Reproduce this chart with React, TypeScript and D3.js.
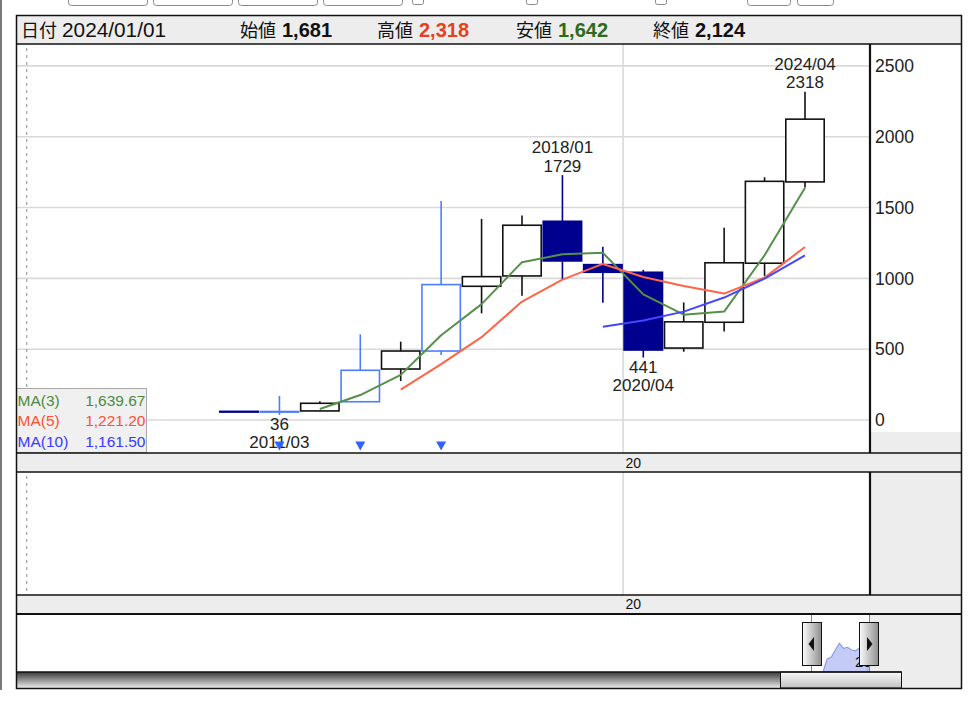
import React from 'react';
import * as d3 from 'd3';

// ---------- data ----------
const years = [2010, 2011, 2012, 2013, 2014, 2015, 2016, 2017, 2018, 2019, 2020, 2021, 2022, 2023, 2024];
const opens = [61, 57, 64, 129, 360, 487, 944, 1017, 1403, 1097, 1043, 508, 690, 1107, 1681];
const highs = [63, 170, 132, 605, 553, 1547, 1420, 1443, 1729, 1224, 1060, 830, 1358, 1714, 2318];
const lows = [55, 36, 62, 125, 275, 459, 753, 878, 994, 828, 441, 482, 624, 1017, 1642];
const closes = [56, 60, 118, 351, 487, 956, 1012, 1375, 1123, 1043, 494, 693, 1110, 1685, 2124];
const splitYears = [2011, 2013, 2015];

const maPeriods = [3, 5, 10];
const priceTicks = [0, 500, 1000, 1500, 2000, 2500];

const extremeYears = [2011, 2018, 2020, 2024];
const extremeDates = ['2011/03', '2018/01', '2020/04', '2024/04'];
const extremeValues = [36, 1729, 441, 2318];
const extremeIsHigh = [false, true, false, true];

const headerDate = '2024/01/01';
const headerLabels = ['始値', '高値', '安値', '終値'];
const yearBoundaries = [2019.5];
const yearBoundaryLabels = ['20'];
const dashedMarkYear = 2004.75;

const navValues = [0, 614, 695, 1040, 1357, 1120, 1168, 1040, 1000, 1150, 1500, 2100];

// ---------- styles ----------
const FONT = "'Liberation Sans', Arial, 'Noto Sans CJK JP', sans-serif";
const maColors = ['#55904a', '#ff6448', '#4646ff'];
const maTextColors = ['#4e8a40', '#ff5030', '#3a3aff'];
const headerValueColors = ['#111', '#e8401c', '#2f6a1c', '#111'];
const NAVY = '#00008f';
const SPLIT_BLUE = '#4d7cff';

const X0 = 16, X1 = 962, AX = 870;
const HEAD_T = 15, MAIN_T = 44, MAIN_B = 453, P2_T = 472, P2_B = 595, NAV_T = 615, SCR_T = 672, SCR_B = 688;

function movingAverage(vals: number[], n: number) {
  const out: { year: number; v: number }[] = [];
  for (let i = n - 1; i < vals.length; i++) {
    out.push({ year: years[i], v: d3.mean(vals.slice(i - n + 1, i + 1)) as number });
  }
  return out;
}

export default function App() {
  const x = d3.scaleLinear().domain([2010, 2024]).range([239, 805]);
  const y = d3.scaleLinear().domain([0, 2500]).range([420, 65.9]);
  const step = x(2011) - x(2010);
  const bw = step * 0.95;

  const mas = maPeriods.map((p) => movingAverage(closes, p));
  const line = d3
    .line<{ year: number; v: number }>()
    .x((d) => x(d.year))
    .y((d) => y(d.v));

  const fmtInt = d3.format(',');
  const fmt2 = d3.format(',.2f');
  const last = years.length - 1;
  const headerVals = [opens[last], highs[last], lows[last], closes[last]];
  const headerX = [240, 377, 516, 653];

  const navX = d3.scaleLinear().domain([0, navValues.length - 1]).range([823, 868]);
  const navY = d3.scaleLinear().domain([0, 2600]).range([672, 617]);
  const navArea = d3
    .area<number>()
    .x((_, i) => navX(i))
    .y0(672)
    .y1((d) => navY(d));

  const topButtons = [[68, 147], [153, 232], [238, 317], [323, 402], [747, 790], [797, 833]];
  const topChecks = [412, 526, 655];

  return (
    <div style={{ position: 'absolute', left: 0, top: 0 }}>
      <svg width={980} height={706} style={{ display: 'block', fontFamily: FONT }}>
        <defs>
          <linearGradient id="track" x1="0" y1="0" x2="0" y2="1">
            <stop offset="0%" stopColor="#3a3a3a" />
            <stop offset="100%" stopColor="#ececec" />
          </linearGradient>
          <linearGradient id="thumb" x1="0" y1="0" x2="0" y2="1">
            <stop offset="0%" stopColor="#f8f8f8" />
            <stop offset="100%" stopColor="#c2c2c2" />
          </linearGradient>
          <linearGradient id="handle" x1="0" y1="0" x2="1" y2="0">
            <stop offset="0%" stopColor="#fcfcfc" />
            <stop offset="100%" stopColor="#8e8e8e" />
          </linearGradient>
          <clipPath id="mainClip">
            <rect x={X0} y={MAIN_T} width={AX - X0} height={MAIN_B - MAIN_T} />
          </clipPath>
        </defs>
        <rect x={0} y={0} width={980} height={706} fill="#fff" />
        <rect x={0} y={0} width={2} height={690} fill="#7a7a7a" />

        {/* top buttons */}
        {topButtons.map(([a, b], i) => (
          <rect key={i} x={a + 0.5} y={-10} width={b - a} height={15.5} rx={3} fill="#fff" stroke="#8a8a8a" />
        ))}
        {topChecks.map((a, i) => (
          <rect key={i} x={a + 0.5} y={-8} width={11} height={12.5} rx={2} fill="#fff" stroke="#8a8a8a" />
        ))}

        {/* header */}
        <rect x={X0} y={HEAD_T} width={X1 - X0} height={MAIN_T - HEAD_T} fill="#ededed" />
        <text x={21} y={37} fontSize={18} fill="#111">日付</text>
        <text x={62} y={37} fontSize={20.8} fill="#111">{headerDate}</text>
        {headerLabels.map((lab, i) => (
          <g key={lab}>
            <text x={headerX[i]} y={37} fontSize={18} fill="#111">{lab}</text>
            <text x={headerX[i] + 42} y={37} fontSize={20} fontWeight="bold" fill={headerValueColors[i]}>
              {fmtInt(headerVals[i])}
            </text>
          </g>
        ))}

        {/* main panel */}
        <rect x={X0} y={MAIN_T} width={AX - X0} height={MAIN_B - MAIN_T} fill="#fff" />
        <rect x={AX} y={432} width={X1 - AX} height={MAIN_B - 432} fill="#ededed" />
        <g clipPath="url(#mainClip)">
          {priceTicks.map((t) => (
            <line key={t} x1={X0} x2={AX} y1={y(t)} y2={y(t)} stroke="#d9d9d9" strokeWidth={1.6} />
          ))}
          {yearBoundaries.map((b) => (
            <line key={b} x1={x(b)} x2={x(b)} y1={MAIN_T} y2={MAIN_B} stroke="#d9d9d9" strokeWidth={1.6} />
          ))}
          <line x1={x(dashedMarkYear)} x2={x(dashedMarkYear)} y1={MAIN_T + 4} y2={MAIN_B} stroke="#8a8a8a" strokeDasharray="3,4" />

          {/* candles */}
          {years.map((yr, i) => {
            const o = opens[i], c = closes[i], h = highs[i], l = lows[i];
            const split = splitYears.includes(yr);
            const down = c < o;
            const col = split ? SPLIT_BLUE : down ? NAVY : '#111';
            const fill = split ? '#fff' : down ? NAVY : '#fff';
            const top = y(Math.max(o, c));
            const bot = y(Math.min(o, c));
            const cx = x(yr);
            return (
              <g key={yr}>
                <line x1={cx} x2={cx} y1={y(h)} y2={y(l)} stroke={col} strokeWidth={1.6} />
                <rect x={cx - bw / 2} y={top} width={bw} height={Math.max(bot - top, 0.6)} fill={fill} stroke={col} strokeWidth={1.6} />
              </g>
            );
          })}

          {/* moving averages */}
          {mas.map((m, k) => (
            <path key={k} d={line(m) || ''} fill="none" stroke={maColors[k]} strokeWidth={2} strokeLinejoin="round" />
          ))}

          {/* extreme annotations */}
          {extremeYears.map((yr, i) => {
            const cx = x(yr);
            const yy = y(extremeValues[i]);
            return extremeIsHigh[i] ? (
              <g key={yr} fontSize={17} fill="#222" textAnchor="middle">
                <text x={cx} y={yy - 22}>{extremeDates[i]}</text>
                <text x={cx} y={yy - 3.3}>{extremeValues[i]}</text>
              </g>
            ) : (
              <g key={yr} fontSize={17} fill="#222" textAnchor="middle">
                <text x={cx} y={yy + 15.5}>{extremeValues[i]}</text>
                <text x={cx} y={yy + 33.5}>{extremeDates[i]}</text>
              </g>
            );
          })}

          {/* split markers */}
          {splitYears.map((yr) => {
            const cx = x(yr);
            return <path key={yr} d={`M${cx - 5},441.5 L${cx + 5},441.5 L${cx},450.5 Z`} fill="#2f62ff" />;
          })}
        </g>

        {/* legend */}
        <rect x={X0 + 0.5} y={388.5} width={130} height={64} fill="#f0f0f0" stroke="#a8a8a8" />
        {maPeriods.map((p, k) => (
          <g key={p} fontSize={15.5} fill={maTextColors[k]}>
            <text x={17.5} y={405.5 + k * 20.5}>{`MA(${p})`}</text>
            <text x={145.5} y={405.5 + k * 20.5} textAnchor="end">
              {fmt2(mas[k][mas[k].length - 1].v)}
            </text>
          </g>
        ))}

        {/* y axis labels */}
        {priceTicks.map((t) => (
          <text key={t} x={875} y={y(t)} dy="0.36em" fontSize={17.5} fill="#222">{t}</text>
        ))}

        {/* strip 1 */}
        <rect x={X0} y={MAIN_B} width={X1 - X0} height={P2_T - MAIN_B} fill="#ededed" />
        {yearBoundaries.map((b, i) => (
          <text key={b} x={x(b) + 2.5} y={468} fontSize={14} fill="#111">{yearBoundaryLabels[i]}</text>
        ))}

        {/* panel 2 */}
        <rect x={X0} y={P2_T} width={AX - X0} height={P2_B - P2_T} fill="#fff" />
        <rect x={AX} y={P2_T} width={X1 - AX} height={P2_B - P2_T} fill="#ededed" />
        {yearBoundaries.map((b) => (
          <line key={b} x1={x(b)} x2={x(b)} y1={P2_T} y2={P2_B} stroke="#d9d9d9" strokeWidth={1.6} />
        ))}
        <line x1={x(dashedMarkYear)} x2={x(dashedMarkYear)} y1={P2_T + 4} y2={P2_B - 2} stroke="#8a8a8a" strokeDasharray="3,4" />

        {/* strip 2 */}
        <rect x={X0} y={P2_B} width={X1 - X0} height={NAV_T - P2_B} fill="#ededed" />
        {yearBoundaries.map((b, i) => (
          <text key={b} x={x(b) + 2.5} y={609} fontSize={14} fill="#111">{yearBoundaryLabels[i]}</text>
        ))}

        {/* navigator */}
        <rect x={X0} y={NAV_T} width={AX - X0} height={SCR_T - NAV_T} fill="#fff" />
        <rect x={AX} y={NAV_T} width={X1 - AX} height={SCR_B - NAV_T} fill="#ededed" />
        <path d={navArea(navValues) || ''} fill="#c3cbf6" stroke="#8e9de6" strokeWidth={1.2} />
        <text x={855} y={667} fontSize={15} fill="#111">20</text>
        <line x1={811.5} x2={811.5} y1={NAV_T} y2={SCR_T} stroke="#4a92cf" />
        <line x1={869.5} x2={869.5} y1={NAV_T} y2={SCR_T} stroke="#4a92cf" />
        <rect x={802.5} y={622.5} width={19} height={43} fill="url(#handle)" stroke="#111" />
        <path d="M808.5,644 L814,637 L814,651 Z" fill="#111" />
        <rect x={859.5} y={622.5} width={19} height={43} fill="url(#handle)" stroke="#111" />
        <path d="M872.5,644 L867,637 L867,651 Z" fill="#111" />

        {/* scrollbar */}
        <rect x={X0} y={SCR_T} width={780.5 - X0} height={SCR_B - SCR_T} fill="url(#track)" />
        <rect x={780.5} y={SCR_T} width={121} height={SCR_B - SCR_T} fill="url(#thumb)" stroke="#111" />
        <line x1={X0} x2={901.5} y1={SCR_T} y2={SCR_T} stroke="#111" strokeWidth={1.5} />

        {/* frame lines */}
        <g stroke="#111" fill="none">
          <rect x={X0 + 0.5} y={HEAD_T + 0.5} width={X1 - X0 - 1} height={SCR_B - HEAD_T} strokeWidth={1.5} />
          <line x1={X0} x2={X1} y1={MAIN_T} y2={MAIN_T} strokeWidth={1.5} />
          <line x1={X0} x2={X1} y1={MAIN_B} y2={MAIN_B} strokeWidth={1.5} />
          <line x1={X0} x2={X1} y1={P2_T} y2={P2_T} strokeWidth={1.5} />
          <line x1={X0} x2={X1} y1={P2_B} y2={P2_B} strokeWidth={1.5} />
          <line x1={X0} x2={X1} y1={NAV_T - 1} y2={NAV_T - 1} strokeWidth={2.2} />
          <line x1={AX} x2={AX} y1={MAIN_T} y2={MAIN_B} strokeWidth={2.2} />
          <line x1={AX} x2={AX} y1={P2_T} y2={P2_B} strokeWidth={2.2} />
        </g>
      </svg>
    </div>
  );
}
